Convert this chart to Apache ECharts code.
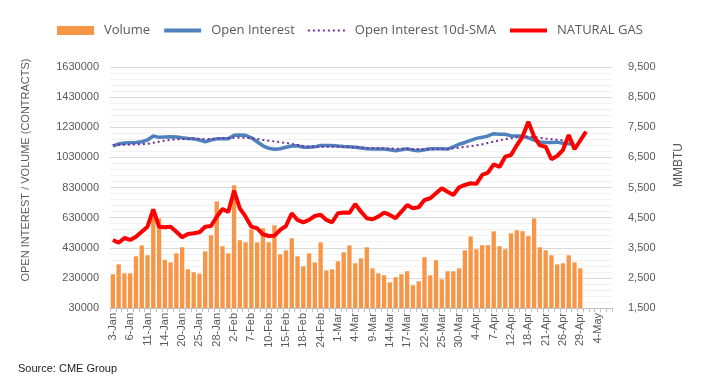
<!DOCTYPE html>
<html>
<head>
<meta charset="utf-8">
<script src="https://cdn.jsdelivr.net/npm/echarts@6/dist/echarts.min.js"></script>
<style>
html,body{margin:0;padding:0;background:#fff;}
#chart{width:702px;height:389px;}
</style>
</head>
<body>
<div id="chart"></div>
<script>
const dates = ["3-Jan","4-Jan","5-Jan","6-Jan","7-Jan","10-Jan","11-Jan","12-Jan","13-Jan","14-Jan",
"18-Jan","19-Jan","20-Jan","21-Jan","24-Jan","25-Jan","26-Jan","27-Jan","28-Jan","31-Jan",
"1-Feb","2-Feb","3-Feb","4-Feb","7-Feb","8-Feb","9-Feb","10-Feb","11-Feb","14-Feb",
"15-Feb","16-Feb","17-Feb","18-Feb","22-Feb","23-Feb","24-Feb","25-Feb","28-Feb","1-Mar",
"2-Mar","3-Mar","4-Mar","7-Mar","8-Mar","9-Mar","10-Mar","11-Mar","14-Mar","15-Mar",
"16-Mar","17-Mar","18-Mar","21-Mar","22-Mar","23-Mar","24-Mar","25-Mar","28-Mar","29-Mar",
"30-Mar","31-Mar","1-Apr","4-Apr","5-Apr","6-Apr","7-Apr","8-Apr","11-Apr","12-Apr",
"13-Apr","14-Apr","18-Apr","19-Apr","20-Apr","21-Apr","22-Apr","25-Apr","26-Apr","27-Apr",
"28-Apr","29-Apr","2-May","3-May","4-May","5-May","6-May"];

const volume = [254000,320000,260000,260000,373000,446000,380000,665000,625000,349000,
333000,393000,433000,287000,267000,258000,406000,513000,738000,440000,
393000,845000,480000,466000,552000,466000,559000,466000,579000,386000,
413000,493000,373000,307000,393000,333000,466000,280000,287000,340000,
400000,446000,327000,360000,433000,293000,260000,247000,200000,234000,
254000,274000,181000,207000,367000,247000,347000,220000,274000,274000,
293000,413000,505000,420000,447000,447000,539000,440000,420000,526000,
546000,540000,508000,625000,433000,413000,380000,320000,327000,380000,
333000,293000];

const openInterest = [1105000,1119000,1125000,1127000,1129000,1134000,1145000,1172000,1163000,1165000,
1167000,1165000,1160000,1156000,1153000,1145000,1134000,1145000,1153000,1153000,
1153000,1177000,1178000,1177000,1160000,1134000,1107000,1090000,1084000,1087000,
1097000,1105000,1107000,1097000,1097000,1100000,1109000,1109000,1109000,1105000,
1102000,1100000,1097000,1092000,1087000,1085000,1085000,1085000,1081000,1074000,
1080000,1087000,1078000,1074000,1080000,1087000,1087000,1087000,1085000,1100000,
1117000,1129000,1143000,1156000,1163000,1172000,1187000,1183000,1183000,1174000,
1172000,1170000,1160000,1145000,1132000,1129000,1129000,1131000,1123000,1120000,
1118000];

const oiSma10 = [1112000,1113000,1114000,1115000,1117000,1118000,1120000,1127000,1134000,1141000,
1146000,1150000,1152000,1153000,1154000,1153000,1152000,1152000,1154000,1157000,
1159000,1160000,1160000,1160000,1157000,1152000,1146000,1141000,1136000,1131000,
1126000,1120000,1113000,1105000,1101000,1100000,1101000,1101000,1101000,1101000,
1100000,1098000,1097000,1095000,1093000,1092000,1091000,1090000,1089000,1088000,
1087000,1086000,1085000,1085000,1084000,1084000,1085000,1085000,1086000,1090000,
1095000,1100000,1104000,1110000,1117000,1126000,1134000,1143000,1151000,1157000,
1163000,1166000,1167000,1165000,1160000,1155000,1151000,1147000,1143000,1139000,
1136000];

const naturalGas = [3758,3668,3824,3758,3867,4033,4199,4777,4199,4179,
4199,4033,3847,3957,3980,4013,4199,4222,4531,4787,
4687,5394,4810,4531,4199,4146,3947,3890,3900,4090,
4222,4644,4422,4345,4422,4554,4598,4422,4345,4644,
4670,4660,4953,4697,4478,4445,4531,4664,4588,4478,
4697,4920,4810,4843,5086,5142,5308,5474,5361,5252,
5507,5584,5640,5620,5916,5990,6270,6180,6523,6580,
6900,7190,7685,7190,6900,6855,6437,6546,6745,7244,
6770,7060,7353];

const leftTicks = {min:30000, max:1630000, interval:200000};
const rightTicks = {min:1500, max:9500, interval:1000};

const txt = '#595959';
const font = 'Liberation Sans';
const chart = echarts.init(document.getElementById('chart'), null, {renderer:'canvas'});
chart.setOption({
  animation:false,
  textStyle:{fontFamily:font},
  legend:{
    top:19, left:52, itemGap:12, itemWidth:37, itemHeight:9,
    textStyle:{color:txt, fontSize:13, fontFamily:'Open Sans', padding:[0,0,0,5]},
    data:[
      {name:'Volume', icon:'rect'},
      {name:'Open Interest', itemStyle:{opacity:0}, lineStyle:{width:4}},
      {name:'Open Interest 10d-SMA', itemStyle:{opacity:0}, lineStyle:{width:2}},
      {name:'NATURAL GAS', itemStyle:{opacity:0}, lineStyle:{width:4}}
    ]
  },
  grid:{left:110, right:90, top:67, bottom:81},
  xAxis:{
    type:'category', data:dates, boundaryGap:true,
    axisLine:{lineStyle:{color:'#bfbfbf'}},
    axisTick:{show:true, interval:0, length:4, lineStyle:{color:'#bfbfbf'}},
    axisLabel:{interval:2, rotate:90, color:txt, fontSize:11, margin:5, fontFamily:font}
  },
  yAxis:[
    {type:'value', min:leftTicks.min, max:leftTicks.max, interval:leftTicks.interval,
     axisLine:{show:false}, axisTick:{show:false},
     axisLabel:{color:txt, fontSize:11, margin:11, fontFamily:font, formatter:v=>String(v)},
     splitLine:{show:true, lineStyle:{color:'#d9d9d9', width:1}},
     minorTick:{show:false, splitNumber:5},
     minorSplitLine:{show:true, lineStyle:{color:'#f2f2f2', width:1}}
    },
    {type:'value', min:rightTicks.min, max:rightTicks.max, interval:rightTicks.interval, position:'right',
     axisLine:{show:false}, axisTick:{show:false}, splitLine:{show:false},
     axisLabel:{color:txt, fontSize:11, margin:16, fontFamily:font,
       formatter:v=>v.toLocaleString('en-US')}
    }
  ],
  graphic:[
    {type:'text', rotation:Math.PI/2, x:26, y:170,
     style:{text:'OPEN INTEREST / VOLUME (CONTRACTS)', fill:txt, font:'11px "Liberation Sans"', align:'center', verticalAlign:'middle'}},
    {type:'text', rotation:Math.PI/2, x:679, y:165,
     style:{text:'MMBTU', fill:txt, font:'12px "Liberation Sans"', align:'center', verticalAlign:'middle'}},
    {type:'text', x:18, y:363,
     style:{text:'Source: CME Group', fill:'#222', font:'11px "Liberation Sans"', shadowBlur:2, shadowColor:'rgba(0,0,0,0.35)', shadowOffsetX:1, shadowOffsetY:1}}
  ],
  series:[
    {name:'Volume', type:'bar', data:volume, yAxisIndex:0, barCategoryGap:'25%',
     itemStyle:{color:'#F79646'}, z:1},
    {name:'Open Interest', type:'line', data:openInterest, yAxisIndex:0, symbol:'none',
     lineStyle:{color:'#4F81BD', width:3.5}, itemStyle:{color:'#4F81BD'}, z:3},
    {name:'Open Interest 10d-SMA', type:'line', data:oiSma10, yAxisIndex:0, symbol:'none',
     lineStyle:{color:'#7030A0', width:2, type:[2,3]}, itemStyle:{color:'#7030A0'}, z:4},
    {name:'NATURAL GAS', type:'line', data:naturalGas, yAxisIndex:1, symbol:'none',
     lineStyle:{color:'#FF0000', width:4}, itemStyle:{color:'#FF0000'}, z:5}
  ]
});
</script>
</body>
</html>
